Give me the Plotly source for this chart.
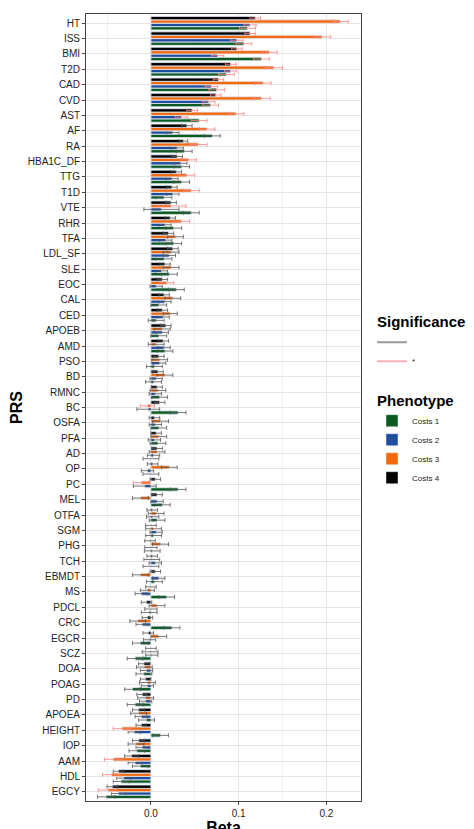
import plotly.graph_objects as go

prs = ["HT","ISS","BMI","T2D","CAD","CVD","AST","AF","RA","HBA1C_DF","TTG","T1D","VTE","RHR","TFA","LDL_SF","SLE","EOC","CAL","CED","APOEB","AMD","PSO","BD","RMNC","BC","OSFA","PFA","AD","OP","PC","MEL","OTFA","SGM","PHG","TCH","EBMDT","MS","PDCL","CRC","EGCR","SCZ","DOA","POAG","PD","APOEA","HEIGHT","IOP","AAM","HDL","EGCY"]

costs4 = [0.119,0.113,0.098,0.091,0.077,0.074,0.047,0.041,0.037,0.030,0.029,0.024,0.023,0.022,0.020,0.025,0.016,0.013,0.015,0.013,0.017,0.014,0.009,0.008,0.007,0.010,0.004,0.006,0.007,0.002,0.005,0.007,0.0015,0.0,-0.001,0.0015,0.005,0.0,-0.005,-0.004,-0.003,0.0,-0.008,-0.006,-0.010,-0.014,-0.011,-0.014,-0.022,-0.037,-0.044]
costs3 = [0.216,0.195,0.135,0.140,0.128,0.126,0.097,0.064,0.054,0.043,0.041,0.046,0.023,0.035,0.028,0.023,0.023,0.018,0.025,0.022,0.013,0.006,0.010,0.016,0.008,-0.004,0.011,0.009,0.007,0.021,-0.011,-0.012,0.006,0.003,0.011,0.001,-0.012,-0.004,0.007,-0.015,0.009,-0.001,-0.0075,-0.004,-0.006,-0.014,-0.033,-0.017,-0.043,-0.045,-0.049]
costs2 = [0.113,0.098,0.076,0.091,0.069,0.066,0.035,0.025,0.030,0.034,0.024,0.025,0.012,0.016,0.017,0.021,0.012,0.006,0.016,0.014,0.013,0.015,0.010,0.006,0.005,-0.003,0.005,0.004,0.003,-0.004,-0.007,0.007,0.002,0.006,0.0,0.005,0.009,-0.011,0.0,-0.010,-0.0015,0.001,-0.005,-0.004,-0.006,-0.011,-0.019,-0.010,-0.018,-0.031,-0.037]
costs1 = [0.110,0.106,0.126,0.086,0.075,0.068,0.055,0.070,0.038,0.035,0.035,0.015,0.046,0.026,0.026,0.015,0.021,0.029,0.009,0.006,0.009,0.016,0.004,0.003,0.010,0.031,0.009,0.008,0.0,0.0,0.031,0.013,0.007,0.003,0.0015,0.0,0.004,0.018,-0.002,0.024,-0.012,-0.018,-0.008,-0.021,-0.018,-0.005,0.011,-0.016,-0.012,-0.034,-0.051]

err4 = [0.006,0.006,0.006,0.006,0.006,0.006,0.006,0.006,0.005,0.006,0.006,0.006,0.006,0.006,0.006,0.006,0.006,0.006,0.006,0.006,0.006,0.006,0.006,0.006,0.006,0.006,0.006,0.006,0.006,0.006,0.006,0.006,0.006,0.006,0.006,0.006,0.006,0.006,0.006,0.006,0.006,0.006,0.006,0.006,0.006,0.007,0.006,0.007,0.008,0.006,0.006]
err3 = [0.009,0.010,0.009,0.010,0.009,0.010,0.009,0.009,0.010,0.009,0.009,0.009,0.017,0.009,0.009,0.009,0.009,0.008,0.009,0.008,0.009,0.009,0.009,0.009,0.009,0.008,0.009,0.009,0.009,0.009,0.009,0.009,0.009,0.009,0.009,0.009,0.009,0.008,0.009,0.009,0.009,0.009,0.009,0.009,0.009,0.009,0.010,0.009,0.010,0.010,0.011]
err2 = [0.007,0.007,0.007,0.007,0.007,0.007,0.007,0.007,0.007,0.007,0.007,0.007,0.020,0.007,0.007,0.007,0.007,0.007,0.007,0.007,0.007,0.007,0.007,0.007,0.007,0.013,0.007,0.007,0.007,0.007,0.013,0.007,0.007,0.007,0.007,0.007,0.007,0.007,0.007,0.007,0.007,0.007,0.007,0.007,0.007,0.007,0.007,0.007,0.008,0.008,0.008]
err1 = [0.009,0.009,0.009,0.009,0.009,0.009,0.009,0.009,0.009,0.009,0.009,0.009,0.009,0.009,0.009,0.009,0.009,0.009,0.009,0.009,0.009,0.009,0.009,0.009,0.009,0.009,0.009,0.009,0.009,0.009,0.009,0.009,0.009,0.009,0.009,0.009,0.009,0.009,0.009,0.009,0.009,0.009,0.009,0.009,0.009,0.009,0.009,0.009,0.009,0.009,0.010]

sig_rows_all = ["HT","ISS","BMI","T2D","CAD","CVD","AST"]
sig_rows_c3 = sig_rows_all + ["AF","RA","HBA1C_DF","TTG","T1D","VTE","RHR","EOC","BC","PC","HEIGHT","AAM","HDL","EGCY"]

series = [("Costs 1", costs1, err1, "#0b5a22"),
          ("Costs 2", costs2, err2, "#1f4e9c"),
          ("Costs 3", costs3, err3, "#f26a0f"),
          ("Costs 4", costs4, err4, "#000000")]

order = prs[::-1]
fig = go.Figure()
for k, (name, vals, errs, col) in enumerate(series):
    y = prs
    fig.add_trace(go.Bar(y=y, x=vals, orientation="h", name=name, marker_color=col,
                         offsetgroup=str(k), legendgroup="ph", legendgrouptitle_text="<b>Phenotype</b>",
                         legendrank=100 + k))
    sigset = sig_rows_c3 if name == "Costs 3" else sig_rows_all
    for is_sig, ecol in [(True, "#ff8080"), (False, "#555555")]:
        xv = [v if ((p in sigset) == is_sig) else None for p, v in zip(prs, vals)]
        fig.add_trace(go.Bar(y=y, x=xv, orientation="h", offsetgroup=str(k), showlegend=False,
                             marker_color="rgba(0,0,0,0)", hoverinfo="skip",
                             error_x=dict(type="data", array=errs, color=ecol, thickness=0.8, width=2)))

fig.add_trace(go.Scatter(x=[None], y=[None], mode="lines", line=dict(color="#999999", width=2),
                         name=" ", legendgroup="sig", legendgrouptitle_text="<b>Significance</b>", legendrank=1))
fig.add_trace(go.Scatter(x=[None], y=[None], mode="lines", line=dict(color="#ffb0b8", width=2),
                         name="*", legendgroup="sig", legendrank=2))

fig.update_layout(
    width=474, height=829, barmode="group", bargap=0.12, bargroupgap=0,
    plot_bgcolor="white", paper_bgcolor="white",
    margin=dict(l=73, r=121, t=5, b=36),
    font=dict(family="Liberation Sans, Arial", size=10, color="#222"),
    legend=dict(x=1.04, y=0.63, yanchor="top", tracegroupgap=18,
                font=dict(size=8), grouptitlefont=dict(size=15, color="black")),
    xaxis=dict(range=[-0.074, 0.2395], tickvals=[0, 0.1, 0.2], ticktext=["0.0", "0.1", "0.2"],
               showgrid=True, gridcolor="#e5e5e5", zeroline=False, showline=True, mirror=True,
               linecolor="#444", ticks="outside", ticklen=3, tickcolor="#444",
               title=dict(text="<b>Beta</b>", font=dict(size=16, color="black"), standoff=2),
               minor=dict(tickvals=[-0.05, 0.05, 0.15], showgrid=True, gridcolor="#f0f0f0")),
    yaxis=dict(categoryorder="array", categoryarray=order, range=[-0.6, len(prs) - 0.4],
               showgrid=True, gridcolor="#e5e5e5", showline=True, mirror=True, linecolor="#444",
               ticks="outside", ticklen=3, tickcolor="#444",
               title=dict(text="<b>PRS</b>", font=dict(size=16, color="black"), standoff=4)),
)
fig.write_html("out.html")
